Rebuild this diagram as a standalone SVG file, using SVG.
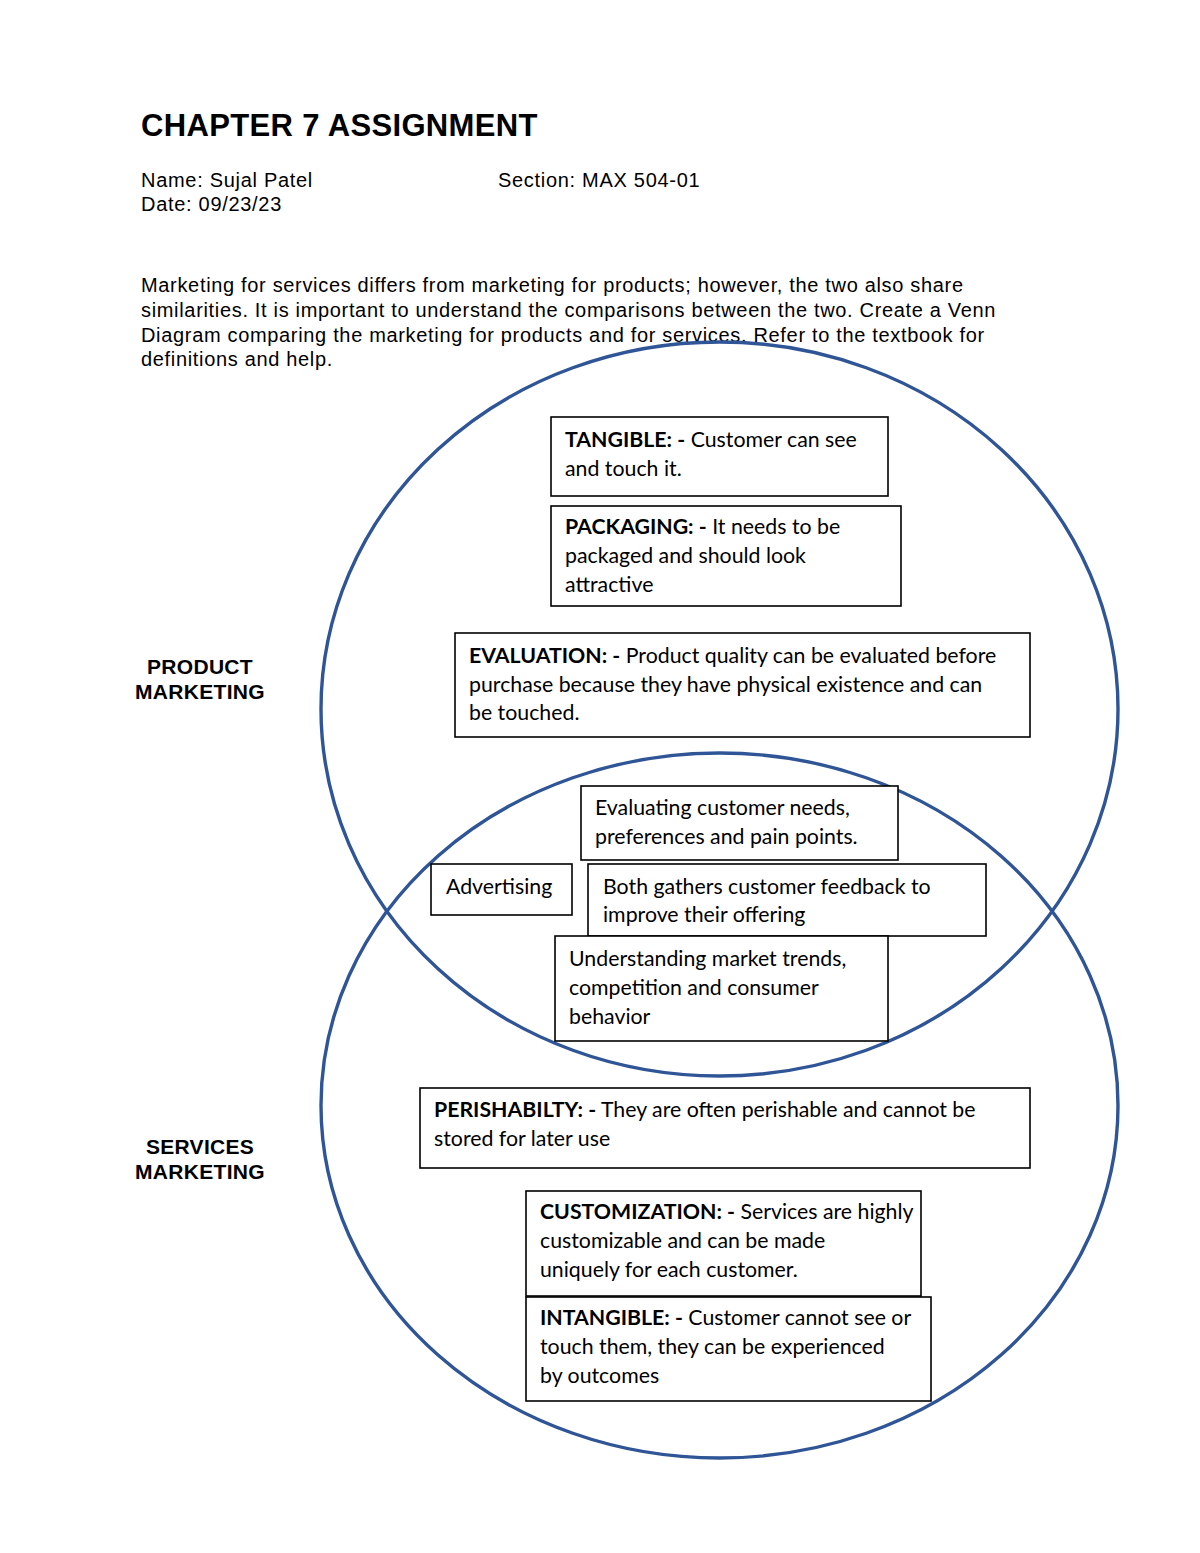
<svg xmlns="http://www.w3.org/2000/svg" width="1200" height="1553" viewBox="0 0 1200 1553">
<style>
.hdr{font-family:"Liberation Sans",Arial,sans-serif;fill:#000}
.title{font-size:31px;font-weight:bold;letter-spacing:0.35px}
.meta{font-size:20px;letter-spacing:0.7px}
.para{font-size:20px;letter-spacing:0.67px}
.lbl{font-size:21px;font-weight:bold;text-anchor:middle;letter-spacing:0.3px}
.box{fill:#fff;stroke:#000;stroke-width:1.6}
.bt{font-family:Lato,"Open Sans",sans-serif;font-size:21.3px;fill:#000}
.b{font-weight:bold}
.circ{fill:none;stroke:#2F5597;stroke-width:3.4}
</style>
<rect width="1200" height="1553" fill="#fff"/>
<g id="header" class="hdr">
<text class="title" x="141" y="136">CHAPTER 7 ASSIGNMENT</text>
<text class="meta" x="141" y="187">Name: Sujal Patel</text>
<text class="meta" x="498" y="187">Section: MAX 504-01</text>
<text class="meta" x="141" y="211">Date: 09/23/23</text>
<text class="para" x="141" y="292">Marketing for services differs from marketing for products; however, the two also share</text>
<text class="para" x="141" y="317">similarities. It is important to understand the comparisons between the two. Create a Venn</text>
<text class="para" x="141" y="342">Diagram comparing the marketing for products and for services. Refer to the textbook for</text>
<text class="para" x="141" y="366">definitions and help.</text>
</g>
<g id="labels" class="hdr">
<text class="lbl" x="200" y="674">PRODUCT</text>
<text class="lbl" x="200" y="699">MARKETING</text>
<text class="lbl" x="200" y="1154">SERVICES</text>
<text class="lbl" x="200" y="1179">MARKETING</text>
</g>
<g id="connectors">
<ellipse id="product-circle" class="circ" cx="719.5" cy="709" rx="398.5" ry="367"/>
<ellipse id="services-circle" class="circ" cx="719.5" cy="1105.5" rx="398.5" ry="352.5"/>
</g>
<g id="tangible">
<rect class="box" x="551" y="417" width="337" height="79"/>
<text class="bt" x="565" y="447"><tspan class="b">TANGIBLE: -</tspan> Customer can see</text>
<text class="bt" x="565" y="476">and touch it.</text>
</g>
<g id="packaging">
<rect class="box" x="551" y="506" width="350" height="100"/>
<text class="bt" x="565" y="534"><tspan class="b">PACKAGING: -</tspan> It needs to be</text>
<text class="bt" x="565" y="563">packaged and should look</text>
<text class="bt" x="565" y="592">attractive</text>
</g>
<g id="evaluation">
<rect class="box" x="455" y="633" width="575" height="104"/>
<text class="bt" x="469" y="663"><tspan class="b">EVALUATION: -</tspan> Product quality can be evaluated before</text>
<text class="bt" x="469" y="692">purchase because they have physical existence and can</text>
<text class="bt" x="469" y="720">be touched.</text>
</g>
<g id="evaluating-needs">
<rect class="box" x="581" y="786" width="317" height="74"/>
<text class="bt" x="595" y="815">Evaluating customer needs,</text>
<text class="bt" x="595" y="844">preferences and pain points.</text>
</g>
<g id="advertising">
<rect class="box" x="431" y="864" width="141" height="51"/>
<text class="bt" x="446" y="894">Advertising</text>
</g>
<g id="feedback">
<rect class="box" x="588" y="864" width="398" height="72"/>
<text class="bt" x="603" y="894">Both gathers customer feedback to</text>
<text class="bt" x="603" y="922">improve their offering</text>
</g>
<g id="market-trends">
<rect class="box" x="555" y="936" width="333" height="105"/>
<text class="bt" x="569" y="966">Understanding market trends,</text>
<text class="bt" x="569" y="995">competition and consumer</text>
<text class="bt" x="569" y="1024">behavior</text>
</g>
<g id="perishability">
<rect class="box" x="420" y="1088" width="610" height="80"/>
<text class="bt" x="434" y="1117"><tspan class="b">PERISHABILTY: -</tspan> They are often perishable and cannot be</text>
<text class="bt" x="434" y="1146">stored for later use</text>
</g>
<g id="customization">
<rect class="box" x="526" y="1191" width="395" height="105"/>
<text class="bt" x="540" y="1219"><tspan class="b">CUSTOMIZATION: -</tspan> Services are highly</text>
<text class="bt" x="540" y="1248">customizable and can be made</text>
<text class="bt" x="540" y="1277">uniquely for each customer.</text>
</g>
<g id="intangible">
<rect class="box" x="526" y="1297" width="405" height="104"/>
<text class="bt" x="540" y="1325"><tspan class="b">INTANGIBLE: -</tspan> Customer cannot see or</text>
<text class="bt" x="540" y="1354">touch them, they can be experienced</text>
<text class="bt" x="540" y="1383">by outcomes</text>
</g>
</svg>
